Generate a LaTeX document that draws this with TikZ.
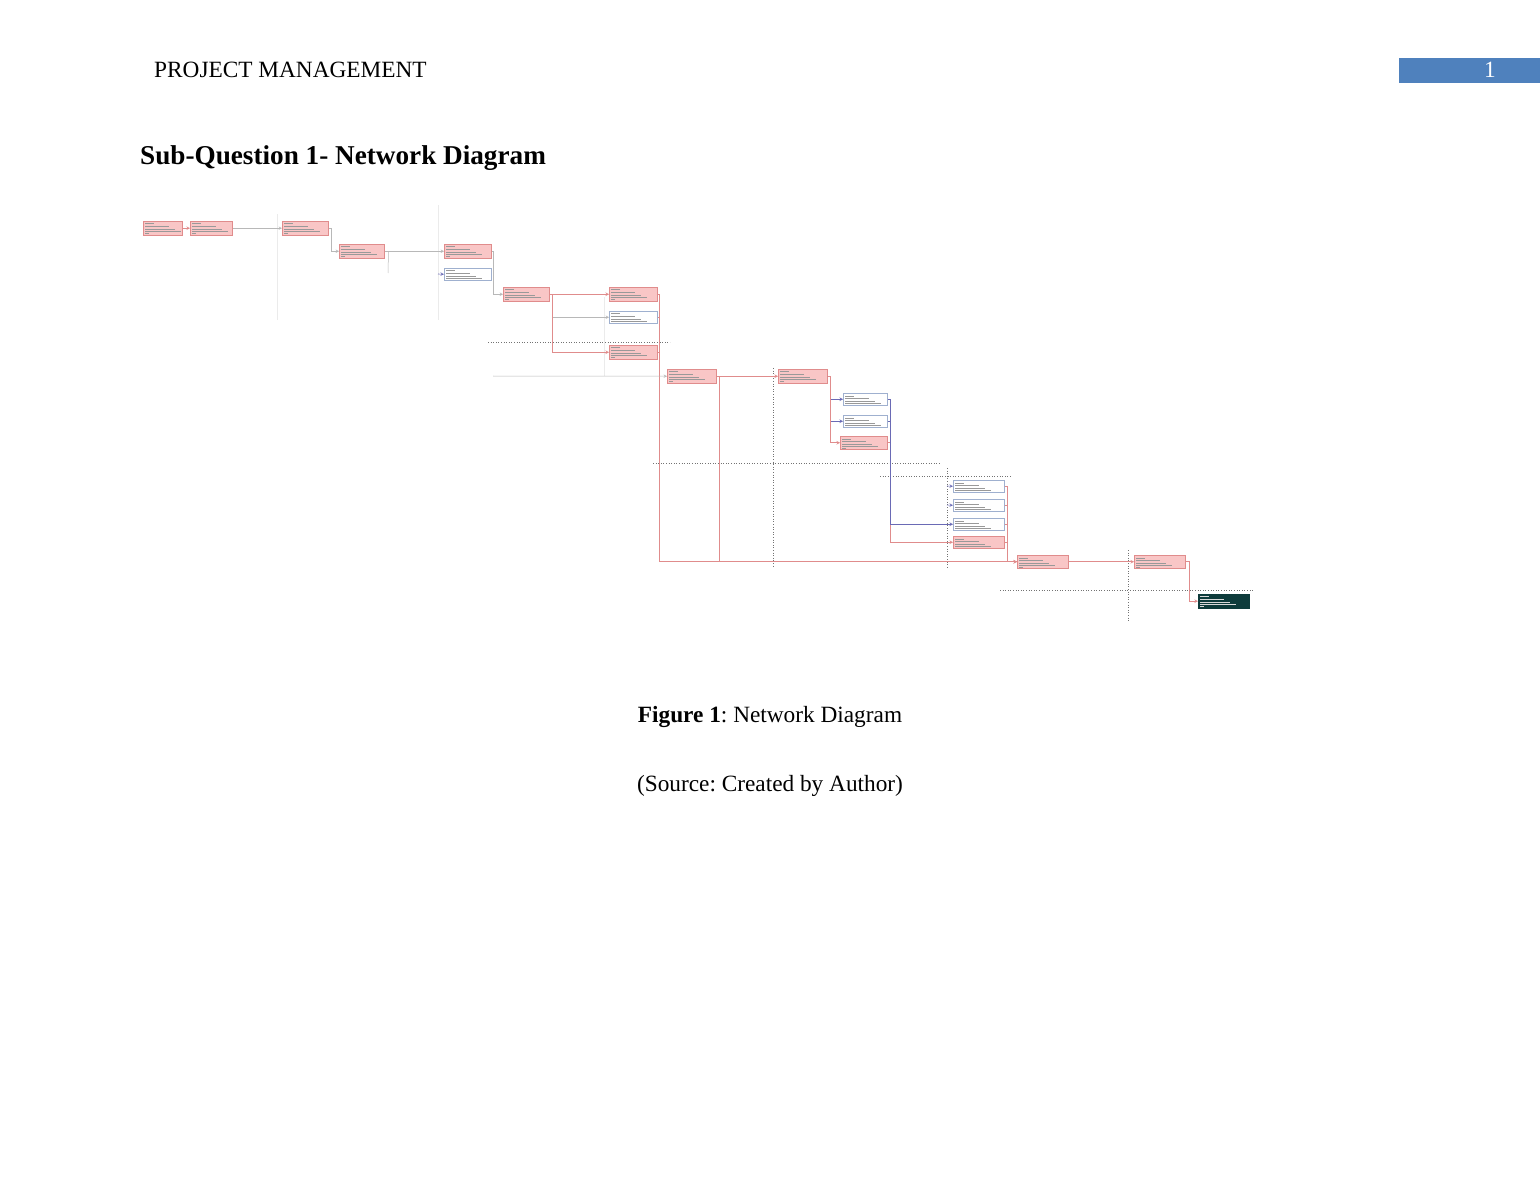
\documentclass[tikz,border=0pt]{standalone}
\usepackage{fontspec}
\setmainfont{Liberation Serif}
\usetikzlibrary{calc}
\frenchspacing

\definecolor{critfill}{HTML}{F9C6C6}
\definecolor{critdraw}{HTML}{E08C8C}
\definecolor{bluedraw}{HTML}{9FB0CF}
\definecolor{bluelink}{HTML}{6A6AB5}
\definecolor{headblue}{HTML}{4F81BD}
\definecolor{donefill}{HTML}{0E3B3B}

\tikzset{
  >=stealth,
  txtlines/.style={path picture={
    \draw[#1, line width=0.5pt] ([shift={(2pt,-2.5pt)}]path picture bounding box.north west) -- ++(9pt,0pt);
    \draw[#1, line width=0.4pt] ([shift={(2pt,-5pt)}]path picture bounding box.north west) -- ++(24pt,0pt);
    \draw[#1, line width=0.4pt] ([shift={(2pt,-7.5pt)}]path picture bounding box.north west) -- ++(30pt,0pt);
    \draw[#1, line width=0.3pt] ([shift={(2pt,-9.5pt)}]path picture bounding box.north west) -- ++(36pt,0pt);
    \draw[#1, line width=0.4pt] ([shift={(2pt,-11.8pt)}]path picture bounding box.north west) -- ++(4pt,0pt);
  }},
  crit/.style={draw=critdraw, fill=critfill, line width=0.5pt, anchor=north west, inner sep=0pt,
    minimum width=48pt, minimum height=14pt, txtlines=black!40},
  free/.style={draw=bluedraw, fill=white, line width=0.5pt, anchor=north west, inner sep=0pt,
    minimum width=48pt, minimum height=12pt, txtlines=black!40},
  done/.style={draw=donefill, fill=donefill, anchor=north west, inner sep=0pt,
    minimum width=51pt, minimum height=14pt, txtlines=white!85!black},
  critlink/.style={draw=critdraw, line width=0.6pt},
  freelink/.style={draw=bluelink, line width=0.6pt},
  greylink/.style={draw=black!28, line width=0.5pt},
  breakline/.style={draw=black!55, dotted, line width=0.6pt},
  faint/.style={draw=black!8, line width=0.5pt},
  bodytext/.style={font=\fontsize{23.3}{27}\selectfont, inner sep=0pt}
}

\begin{document}
\begin{tikzpicture}[x=1pt, y=-1pt]
  \useasboundingbox (0,0) rectangle (1540,1190);

  % page head
  \node[bodytext, anchor=base west] (head) at (154,78) {PROJECT MANAGEMENT};
  \node[fill=headblue, anchor=north west, inner sep=0pt, minimum width=141pt, minimum height=25pt] (pagebox) at (1399,58) {};
  \node[bodytext, text=white, anchor=base] (pagenum) at (1490,78) {1};
  \node[font=\bfseries\fontsize{27.2}{32}\selectfont, inner sep=0pt, anchor=base west] (title) at (140,165) {Sub-Question 1- Network Diagram};

  % faint page edges
  \draw[faint] (277,214) -- (277,320);
  \draw[faint] (438,205) -- (438,320);
  \draw[faint] (604,297) -- (604,376);

  % timescale breaks
  \draw[breakline] (488,342) -- (670,342);
  \draw[breakline] (653,463) -- (940,463);
  \draw[breakline] (880,476) -- (1012,476);
  \draw[breakline] (773,368) -- (773,568);
  \draw[breakline] (947,468) -- (947,567);
  \draw[breakline] (1128,550) -- (1128,622);
  \draw[breakline] (1000,590) -- (1253,590);

  % tasks
  \node[crit, minimum width=39pt] (t1) at (143,221) {};
  \node[crit, minimum width=42pt] (t2) at (190,221) {};
  \node[crit, minimum width=46pt] (t3) at (282,221) {};
  \node[crit, minimum width=45pt] (t4) at (339,244) {};
  \node[crit, minimum width=47pt] (t5) at (444,244) {};
  \node[free, minimum width=47pt] (s1) at (444,268) {};
  \node[crit, minimum width=46pt] (t6) at (503,287) {};
  \node[crit] (t7) at (609,287) {};
  \node[free] (t8) at (609,311) {};
  \node[crit] (t9) at (609,345) {};
  \node[crit, minimum width=49pt] (t10) at (667,369) {};
  \node[crit, minimum width=49pt] (t11) at (778,369) {};
  \node[free, minimum width=44pt] (t12) at (843,393) {};
  \node[free, minimum width=44pt] (t13) at (843,415) {};
  \node[crit, minimum width=47pt, minimum height=13pt] (t14) at (840,436) {};
  \node[free, minimum width=51pt] (t15) at (953,480) {};
  \node[free, minimum width=51pt] (t16) at (953,499) {};
  \node[free, minimum width=51pt] (t17) at (953,518) {};
  \node[crit, minimum width=51pt, minimum height=12pt] (t18) at (953,536) {};
  \node[crit, minimum width=51pt, minimum height=13pt] (t19) at (1017,555) {};
  \node[crit, minimum width=51pt, minimum height=13pt] (t20) at (1134,555) {};
  \node[done] (t21) at (1198,594) {};

  % free ends
  \coordinate (s1hang) at (388,273);
  \coordinate (s1from) at (438,274);
  \coordinate (t10from) at (493,376);
  \coordinate (t15from) at (947,486);
  \coordinate (t16from) at (947,505);

  % links
  \draw[critlink,->] (t1) -- (t2);
  \draw[greylink,->] (t2) -- (t3);
  \draw[greylink,->] (t3.east) -- ++(3,0) |- (t4.west);
  \draw[greylink,->] (t4) -- (t5);
  \draw[greylink] (t4.east) ++(4,0) -- (s1hang);
  \draw[freelink,->] (s1from) -- (s1.west);
  \draw[greylink,->] (t5.east) -- ++(2,0) |- (t6.west);
  \draw[critlink,->] (t6) -- (t7);
  \draw[greylink,->] (t6.east) -- ++(3,0) |- (t8.west);
  \draw[critlink,->] (t6.east) -- ++(3,0) |- (t9.west);
  \draw[critlink,->] (t7.east) -- ++(2,0) |- (t19.west);
  \draw[critlink] (t8.east) -- ++(2,0);
  \draw[critlink] (t9.east) -- ++(2,0);
  \draw[greylink,->] (t10from) -- (t10.west);
  \draw[critlink,->] (t10) -- (t11);
  \draw[critlink] (t10.east) -- ++(3,0) |- (t19.west);
  \draw[freelink,->] (t11.east) -- ++(3,0) |- (t12.west);
  \draw[freelink,->] (t11.east) -- ++(3,0) |- (t13.west);
  \draw[critlink,->] (t11.east) -- ++(3,0) |- (t14.west);
  \draw[critlink,->] (t14.east) -- ++(3,0) |- (t18.west);
  \draw[freelink,->] (t12.east) -- ++(3,0) |- (t17.west);
  \draw[freelink] (t13.east) -- ++(3,0);
  \draw[freelink,->] (t15from) -- (t15.west);
  \draw[freelink,->] (t16from) -- (t16.west);
  \draw[critlink,->] (t15.east) -- ++(3,0) |- (t19.west);
  \draw[critlink] (t16.east) -- ++(3,0);
  \draw[critlink] (t17.east) -- ++(3,0);
  \draw[critlink] (t18.east) -- ++(3,0);
  \draw[critlink,->] (t19) -- (t20);
  \draw[critlink,->] (t20.east) -- ++(4,0) |- (t21.west);

  % caption
  \node[bodytext, anchor=base] (caption) at (770,722) {\textbf{Figure 1}: Network Diagram};
  \node[bodytext, anchor=base] (source) at (770,791) {(Source: Created by Author)};
\end{tikzpicture}
\end{document}
